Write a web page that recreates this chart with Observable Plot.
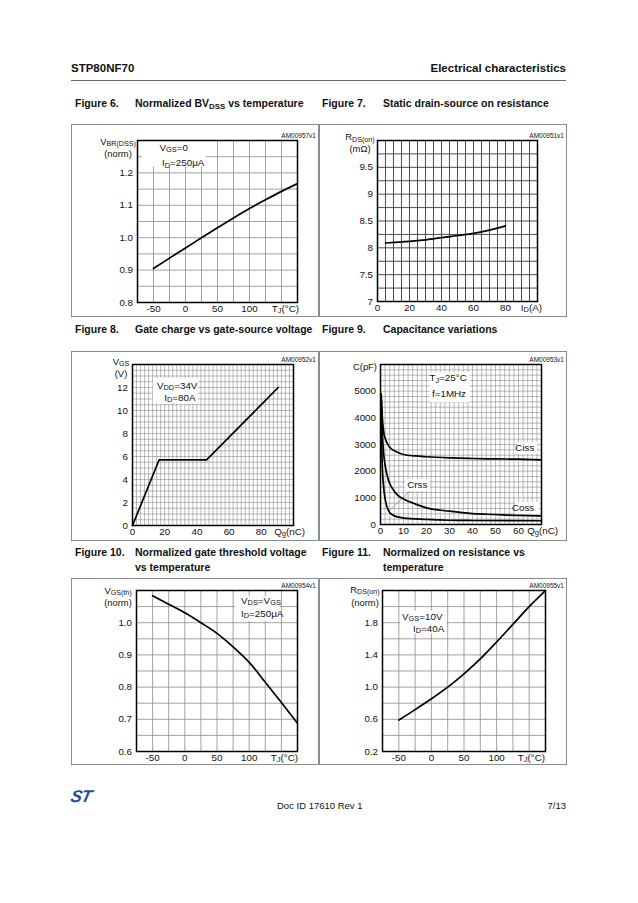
<!DOCTYPE html>
<html><head><meta charset="utf-8">
<script src="https://cdn.jsdelivr.net/npm/d3@7"></script>
<script src="https://cdn.jsdelivr.net/npm/@observablehq/plot@0.6"></script>
<style>
html,body{margin:0;padding:0;background:#fff;}
#page{position:relative;width:638px;height:903px;overflow:hidden;font-family:"Liberation Sans",Arial,Helvetica,sans-serif;color:#111;background:#fff;}
.lbl{position:absolute;white-space:nowrap;line-height:1;}
.box{position:absolute;border:1px solid #8c8c8c;box-sizing:border-box;}
.hr{position:absolute;height:0;border-top:1px solid #6a6a6a;}
.lbl sub{font-size:75%;vertical-align:baseline;position:relative;top:0.28em;}
</style></head>
<body><div id="page"></div>
<script>
// ---------------- data ----------------
// Figure 6: normalized BVDSS vs temperature
const fig6T  = [-50, -25, 0, 25, 50, 75, 100, 125, 150, 175];
const fig6BV = [0.905, 0.937, 0.968, 1.0, 1.031, 1.061, 1.09, 1.117, 1.143, 1.167];
const fig6XTicks = [-50, 0, 50, 100];
const fig6YTicks = [0.8, 0.9, 1.0, 1.1, 1.2];
// Figure 7: static drain-source on resistance
const fig7ID = [5, 10, 20, 30, 40, 50, 60, 70, 80];
const fig7R  = [8.09, 8.10, 8.12, 8.15, 8.19, 8.23, 8.27, 8.33, 8.41];
const fig7XTicks = [0, 20, 40, 60, 80];
const fig7YTicks = [7, 7.5, 8, 8.5, 9, 9.5];
const fig7YLabels = ["7", "7.5", "8", "8.5", "9", "9.5"];
// Figure 8: gate charge
const fig8Q = [0, 16.5, 46, 90.5];
const fig8V = [0, 5.7, 5.7, 12];
const fig8XTicks = [0, 20, 40, 60, 80];
const fig8YTicks = [0, 2, 4, 6, 8, 10, 12];
// Figure 9: capacitance variations
const cissV = [0.3, 0.8, 1.5, 2.2, 3.6, 5, 6.5, 10, 15, 20, 30, 40, 50, 60, 70];
const cissC = [4900, 4000, 3400, 3200, 2940, 2820, 2750, 2625, 2570, 2540, 2500, 2475, 2460, 2450, 2425];
const cossV = [0.3, 0.7, 1.4, 2.2, 3.6, 5, 8, 10, 15, 20, 30, 40, 50, 60, 70];
const cossC = [4800, 3625, 2625, 2125, 1625, 1375, 1060, 960, 775, 625, 500, 410, 375, 340, 325];
const crssV = [0.3, 0.4, 0.7, 1.4, 2.2, 3.6, 5, 8, 10, 20, 30, 40, 70];
const crssC = [4700, 3600, 2375, 1375, 875, 500, 375, 275, 240, 190, 160, 150, 140];
const fig9XTicks = [0, 10, 20, 30, 40, 50, 60];
const fig9YTicks = [0, 1000, 2000, 3000, 4000, 5000];
// Figure 10: normalized gate threshold voltage
const fig10T = [-50, -25, 0, 25, 50, 75, 100, 125, 150, 175];
const fig10V = [1.084, 1.057, 1.031, 1.0, 0.967, 0.925, 0.877, 0.815, 0.752, 0.688];
const fig10XTicks = [-50, 0, 50, 100];
const fig10YTicks = [0.6, 0.7, 0.8, 0.9, 1.0];
// Figure 11: normalized on resistance
const fig11T = [-50, -25, 0, 25, 50, 75, 100, 125, 150, 175];
const fig11R = [0.59, 0.72, 0.855, 1.0, 1.165, 1.35, 1.56, 1.78, 2.0, 2.2];
const fig11XTicks = [-50, 0, 50, 100];
const fig11YTicks = [0.2, 0.6, 1.0, 1.4, 1.8];

// ---------------- helpers ----------------
const FONT = '"Liberation Sans", Arial, Helvetica, sans-serif';
const page = document.getElementById("page");
const pts = (xs, ys) => xs.map((x, i) => ({x, y: ys[i]}));
const f1 = d => d.toFixed(1);
const plain = d => String(d);

function addLabel(html, {left, right, cy, size = 10.5, bold = true, color = "#111"}) {
  const d = document.createElement("div");
  d.className = "lbl";
  d.innerHTML = html;
  d.style.fontSize = size + "px";
  d.style.fontWeight = bold ? "bold" : "normal";
  d.style.color = color;
  if (left != null) d.style.left = left + "px";
  if (right != null) d.style.right = (638 - right) + "px";
  d.style.top = (cy - size * 0.55) + "px";
  page.appendChild(d);
}
function hline(x1, x2, y) {
  const d = document.createElement("div");
  d.className = "hr";
  Object.assign(d.style, {left: x1 + "px", width: (x2 - x1) + "px", top: y + "px"});
  page.appendChild(d);
}
function rich(g, x, y, parts, {anchor = "start", size = 9.8, fill = "#111"} = {}) {
  const t = g.append("text").attr("x", x).attr("y", y).attr("text-anchor", anchor)
    .attr("font-size", size).attr("fill", fill).attr("font-family", FONT);
  let prevSub = false;
  for (const p of parts) {
    const isSub = typeof p !== "string";
    const ts = t.append("tspan").text(isSub ? p.s : p);
    if (isSub) { ts.attr("font-size", size * 0.76); if (!prevSub) ts.attr("dy", 1.1); }
    else if (prevSub) ts.attr("dy", -1.1);
    prevSub = isSub;
  }
}

function makeChart(c) {
  const box = document.createElement("div");
  box.className = "box";
  Object.assign(box.style, {left: c.L + "px", top: c.T + "px", width: c.W + "px", height: c.H + "px"});
  page.appendChild(box);
  const marks = [
    Plot.ruleX(c.xGrid, {stroke: c.grid, strokeWidth: c.gridW}),
    Plot.ruleY(c.yGrid, {stroke: c.grid, strokeWidth: c.gridW}),
    ...(c.under || []),
    ...(c.boxes || []).map(b => Plot.rect([b], {x1: "x1", x2: "x2", y1: "y1", y2: "y2", fill: "#fff"})),
    Plot.axisX(c.xTicks, {tickSize: 0, tickPadding: 2.5, tickFormat: c.xFmt || plain, label: null}),
    Plot.axisY(c.yTicks, {tickSize: 0, tickPadding: 4.5, tickFormat: c.yFmt || plain, label: null}),
    ...c.series.map(s => Plot.line(s.data, {x: "x", y: "y", stroke: "#000", strokeWidth: 1.7, curve: s.curve || "monotone-x"})),
    Plot.frame({stroke: "#000", strokeWidth: 1.5})
  ];
  const svg = Plot.plot({
    width: c.W, height: c.H,
    marginLeft: c.ml, marginTop: c.mt, marginRight: c.mr, marginBottom: c.mb,
    x: {domain: c.xDomain, label: null},
    y: {domain: c.yDomain, label: null},
    style: {fontFamily: FONT, fontSize: "9.8px", color: "#111", background: "transparent", overflow: "visible"},
    marks
  });
  svg.style.position = "absolute";
  svg.style.left = c.L + "px";
  svg.style.top = c.T + "px";
  page.appendChild(svg);
  const sx = svg.scale("x"), sy = svg.scale("y");
  const g = d3.select(svg).append("g");
  rich(g, c.W - 3, c.mt - 2.5, [c.code], {anchor: "end", size: 6.5});
  c.yTitle.forEach((parts, i) => rich(g, c.ml - c.ytx, c.mt + c.yty[i] + 3.4, parts, {anchor: "middle", size: 9.4}));
  rich(g, c.W - c.mr + c.xtx, c.H - c.mb + 2.5 + 7, c.xTitle, {anchor: "end"});
  (c.notes || []).forEach(n => rich(g, sx.apply(n.x), sy.apply(n.y) + 3.4, n.parts, {anchor: n.anchor || "start"}));
}

// ---------------- page text ----------------
addLabel("STP80NF70", {left: 71, cy: 69, size: 11.5});
addLabel("Electrical characteristics", {right: 566, cy: 69, size: 11.5});
hline(71, 566, 80);

addLabel("Figure 6.", {left: 75, cy: 104});
addLabel("Normalized BV<sub>DSS</sub> vs temperature", {left: 135, cy: 104});
addLabel("Figure 7.", {left: 322, cy: 104});
addLabel("Static drain-source on resistance", {left: 383, cy: 104});
addLabel("Figure 8.", {left: 75, cy: 330});
addLabel("Gate charge vs gate-source voltage", {left: 135, cy: 330});
addLabel("Figure 9.", {left: 322, cy: 330});
addLabel("Capacitance variations", {left: 383, cy: 330});
addLabel("Figure 10.", {left: 75, cy: 553});
addLabel("Normalized gate threshold voltage", {left: 135, cy: 553});
addLabel("vs temperature", {left: 135, cy: 568});
addLabel("Figure 11.", {left: 322, cy: 553});
addLabel("Normalized on resistance vs", {left: 383, cy: 553});
addLabel("temperature", {left: 383, cy: 568});

addLabel('<span style="font-style:italic;letter-spacing:-1px;transform:skewX(-12deg);display:inline-block">ST</span>', {left: 71, cy: 797, size: 17, color: "#1f4f9c"});
addLabel("Doc ID 17610 Rev 1", {left: 277, cy: 806, size: 9.5, bold: false});
addLabel("7/13", {right: 566, cy: 806, size: 9.5, bold: false});

// ---------------- charts ----------------
const tempGrid = d3.range(-75, 176, 25);

makeChart({
  L: 71, T: 124, W: 248, H: 193, ml: 66, mt: 16, mr: 22, mb: 15,
  xDomain: [-75, 175], yDomain: [0.8, 1.3],
  xGrid: tempGrid, yGrid: d3.range(0, 11).map(i => 0.8 + i * 0.05),
  grid: "#8a8a8a", gridW: 0.8,
  xTicks: fig6XTicks, yTicks: fig6YTicks, yFmt: f1,
  series: [{data: pts(fig6T, fig6BV)}],
  boxes: [{x1: -67, x2: 33, y1: 1.218, y2: 1.297}],
  notes: [
    {x: -40, y: 1.278, parts: ["V", {s: "GS"}, "=0"]},
    {x: -36, y: 1.229, parts: ["I", {s: "D"}, "=250μA"]}
  ],
  code: "AM00957v1",
  yTitle: [["V", {s: "BR(DSS)"}], ["(norm)"]], ytx: 19, yty: [1.5, 13.5],
  xTitle: ["T", {s: "J"}, "(°C)"], xtx: 2
});

makeChart({
  L: 319, T: 124, W: 248, H: 193, ml: 58, mt: 16, mr: 30, mb: 16,
  xDomain: [0, 100], yDomain: [7, 10],
  xGrid: d3.range(0, 101, 5), yGrid: d3.range(0, 13).map(i => 7 + i * 0.25),
  grid: "#3a3a3a", gridW: 0.9,
  xTicks: fig7XTicks, yTicks: fig7YTicks, yFmt: (d, i) => fig7YLabels[i],
  series: [{data: pts(fig7ID, fig7R)}],
  code: "AM00951v1",
  yTitle: [["R", {s: "DS(on)"}], ["(mΩ)"]], ytx: 17, yty: [-3, 9],
  xTitle: ["I", {s: "D"}, "(A)"], xtx: 5
});

makeChart({
  L: 71, T: 351, W: 248, H: 190, ml: 61, mt: 13, mr: 26, mb: 16,
  xDomain: [0, 100], yDomain: [0, 14],
  xGrid: d3.range(0, 101, 2.5), yGrid: d3.range(0, 14.001, 0.5),
  grid: "#8c8c8c", gridW: 0.6,
  xTicks: fig8XTicks, yTicks: fig8YTicks,
  series: [{data: pts(fig8Q, fig8V), curve: "linear"}],
  boxes: [{x1: 13, x2: 41, y1: 10.55, y2: 12.8}],
  notes: [
    {x: 15.5, y: 12.12, parts: ["V", {s: "DD"}, "=34V"]},
    {x: 20, y: 11.05, parts: ["I", {s: "D"}, "=80A"]}
  ],
  code: "AM00952v1",
  yTitle: [["V", {s: "GS"}], ["(V)"]], ytx: 11, yty: [-2.5, 9.5],
  xTitle: ["Q", {s: "g"}, "(nC)"], xtx: 12
});

makeChart({
  L: 319, T: 351, W: 248, H: 190, ml: 61, mt: 13, mr: 26, mb: 17,
  xDomain: [0, 70], yDomain: [0, 6000],
  xGrid: d3.range(0, 71, 2), yGrid: d3.range(0, 6001, 200),
  grid: "#8c8c8c", gridW: 0.6,
  xTicks: fig9XTicks, yTicks: fig9YTicks,
  under: [Plot.line([{x: 13.3, y: 1290}, {x: 3.6, y: 510}], {x: "x", y: "y", stroke: "#9a9a9a", strokeWidth: 0.9})],
  series: [{data: pts(cissV, cissC)}, {data: pts(cossV, cossC)}, {data: pts(crssV, crssC)}],
  boxes: [
    {x1: 21.7, x2: 39, y1: 4575, y2: 5700},
    {x1: 59.6, x2: 68.3, y1: 2625, y2: 3075},
    {x1: 58.7, x2: 69.1, y1: 375, y2: 825},
    {x1: 10.9, x2: 21.7, y1: 1237, y2: 1687}
  ],
  notes: [
    {x: 29.6, y: 5475, anchor: "middle", parts: ["T", {s: "J"}, "=25°C"]},
    {x: 30, y: 4875, anchor: "middle", parts: ["f=1MHz"]},
    {x: 63, y: 2850, anchor: "middle", parts: ["Ciss"]},
    {x: 62.2, y: 600, anchor: "middle", parts: ["Coss"]},
    {x: 16.2, y: 1460, anchor: "middle", parts: ["Crss"]}
  ],
  code: "AM00953v1",
  yTitle: [["C(pF)"]], ytx: 15, yty: [3],
  xTitle: ["Q", {s: "g"}, "(nC)"], xtx: 17
});

makeChart({
  L: 71, T: 578, W: 248, H: 187, ml: 65, mt: 12, mr: 22, mb: 14,
  xDomain: [-75, 175], yDomain: [0.6, 1.1],
  xGrid: tempGrid, yGrid: d3.range(0, 11).map(i => 0.6 + i * 0.05),
  grid: "#8a8a8a", gridW: 0.8,
  xTicks: fig10XTicks, yTicks: fig10YTicks, yFmt: f1,
  series: [{data: pts(fig10T, fig10V)}],
  boxes: [{x1: 78.7, x2: 148.5, y1: 1.004, y2: 1.08}],
  notes: [
    {x: 88, y: 1.066, parts: ["V", {s: "DS"}, "=V", {s: "GS"}]},
    {x: 88, y: 1.027, parts: ["I", {s: "D"}, "=250μA"]}
  ],
  code: "AM00954v1",
  yTitle: [["V", {s: "GS(th)"}], ["(norm)"]], ytx: 18, yty: [0.5, 12.5],
  xTitle: ["T", {s: "J"}, "(°C)"], xtx: 1
});

makeChart({
  L: 319, T: 578, W: 248, H: 187, ml: 63, mt: 12, mr: 22, mb: 14,
  xDomain: [-75, 175], yDomain: [0.2, 2.2],
  xGrid: tempGrid, yGrid: d3.range(0, 11).map(i => 0.2 + i * 0.2),
  grid: "#8a8a8a", gridW: 0.8,
  xTicks: fig11XTicks, yTicks: fig11YTicks, yFmt: f1,
  series: [{data: pts(fig11T, fig11R)}],
  boxes: [{x1: -47.4, x2: 23.2, y1: 1.66, y2: 1.945}],
  notes: [
    {x: -44.3, y: 1.87, parts: ["V", {s: "GS"}, "=10V"]},
    {x: -27.4, y: 1.723, parts: ["I", {s: "D"}, "=40A"]}
  ],
  code: "AM00955v1",
  yTitle: [["R", {s: "DS(on)"}], ["(norm)"]], ytx: 17, yty: [-0.5, 12.5],
  xTitle: ["T", {s: "J"}, "(°C)"], xtx: 0
});
</script></body></html>
